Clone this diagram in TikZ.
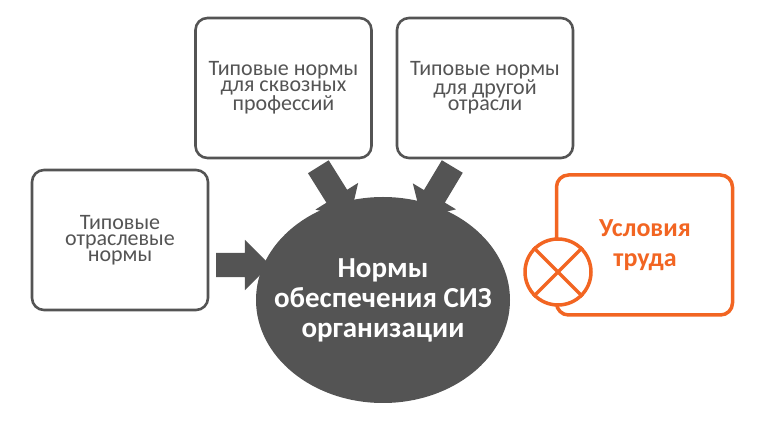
\documentclass[tikz,border=0pt]{standalone}
\usepackage{fontspec}
\setmainfont{Carlito}
\usetikzlibrary{shapes.geometric,shapes.arrows}
\definecolor{dg}{HTML}{545454}
\definecolor{og}{HTML}{F26522}
\begin{document}
\begin{tikzpicture}[x=1pt,y=-1pt,
  box/.style={draw=dg,line width=2.6pt,rounded corners=12pt,fill=white,minimum width=176pt,minimum height=140pt,align=center,text=dg,font=\fontsize{22}{16}\selectfont},
  blockarrow/.style={shape=single arrow,fill=dg,draw=none,inner xsep=0pt,inner ysep=12pt,single arrow head extend=13pt,single arrow head indent=0pt}]
\useasboundingbox (0,0) rectangle (780,427);
\node[box] (l) at (120,240) {Типовые\\отраслевые\\нормы};
\node[box] (t1) at (283.5,88) {Типовые нормы\\для сквозных\\профессий};
\node[box] (t2) at (485,88) {Типовые нормы\\для другой\\отрасли};
\node[blockarrow,minimum height=54pt] (a1) at (237,265) {};
\node[blockarrow,minimum height=60pt,rotate=-58] (a2) at (331,187) {};
\node[blockarrow,minimum height=60pt,rotate=-121] (a3) at (440,187) {};
\node[ellipse,fill=dg,minimum width=254pt,minimum height=206pt,inner sep=0pt] (e) at (383,300) {};
\node[text=white,align=center,font=\bfseries\fontsize{29}{30}\selectfont] (et) at (e.center) {Нормы\\обеспечения СИЗ\\организации};
\node[draw=og,line width=3.5pt,rounded corners=12pt,fill=white,minimum width=176pt,minimum height=140pt] (o) at (644.5,245) {};
\node[text=og,align=center,font=\bfseries\fontsize{26}{30}\selectfont] (ot) at (645,245) {Условия\\труда};
\node[circle,draw=og,line width=3.5pt,fill=white,minimum size=66pt,inner sep=0pt] (c) at (558,272) {};
\draw[og,line width=3.5pt] (c.45) -- (c.225) (c.135) -- (c.-45);
\end{tikzpicture}
\end{document}
